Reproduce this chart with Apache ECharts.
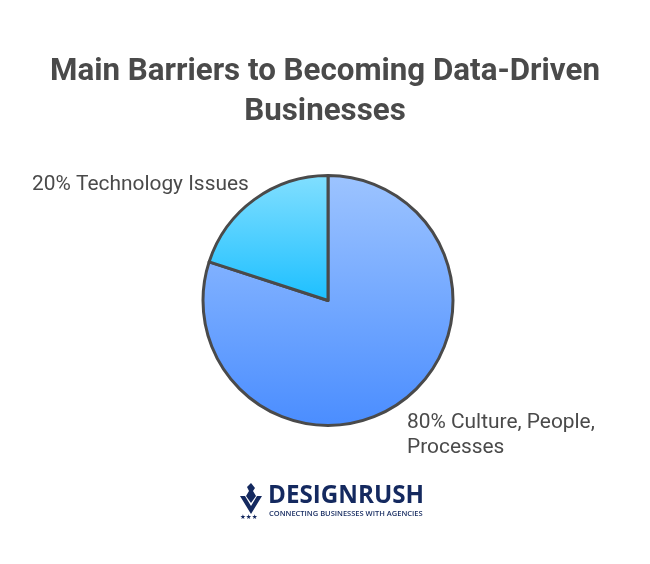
<!DOCTYPE html>
<html>
<head>
<meta charset="utf-8">
<style>
  html, body { margin: 0; padding: 0; background: #fff; }
  #chart { width: 650px; height: 564px; }
</style>
<script src="https://cdn.jsdelivr.net/npm/echarts@6/dist/echarts.min.js"></script>
</head>
<body>
<div id="chart"></div>
<script>
var categories = ['80% Culture, People,\nProcesses', '20% Technology Issues'];
var values = [80, 20];
var sliceTop = ['#9dc4ff', '#82dfff'];
var sliceBottom = ['#4a8dff', '#1cbfff'];
var labelPos = [[407, 435.5], [32, 185]];
var ink = '#4a4a4a';
var navy = '#14295f';

var chart = echarts.init(document.getElementById('chart'));

var pieData = [];
for (var i = 0; i < values.length; i++) {
  pieData.push({
    name: categories[i],
    value: values[i],
    itemStyle: {
      color: new echarts.graphic.LinearGradient(0, 0, 0, 1, [
        { offset: 0, color: sliceTop[i] },
        { offset: 1, color: sliceBottom[i] }
      ])
    }
  });
}

chart.setOption({
  animation: false,
  title: {
    text: 'Main Barriers to Becoming Data-Driven\nBusinesses',
    left: 320,
    top: 47.5,
    textAlign: 'center',
    textStyle: {
      fontFamily: 'Roboto',
      fontSize: 31.3,
      fontWeight: 'bold',
      color: ink,
      lineHeight: 39.5
    }
  },
  series: [{
    type: 'pie',
    center: [328, 300.5],
    radius: [0, 125],
    startAngle: 90,
    clockwise: true,
    data: pieData,
    itemStyle: { borderColor: ink, borderWidth: 3 },
    emphasis: { disabled: true },
    labelLine: { show: false },
    label: {
      show: true,
      position: 'outside',
      formatter: '{b}',
      fontFamily: 'Roboto',
      fontSize: 20.9,
      lineHeight: 24.5,
      color: ink,
      align: 'left',
      width: 240,
      overflow: 'none'
    },
    labelLayout: function (params) {
      var p = labelPos[params.dataIndex];
      return { x: p[0], y: p[1], align: 'left', verticalAlign: 'middle' };
    }
  }],
  graphic: [
    // logo mark
    { type: 'polygon', shape: { points: [[240, 496], [245, 496], [251, 506], [257, 496], [262, 496], [251, 514]] }, style: { fill: navy } },
    { type: 'polygon', shape: { points: [[251, 483], [255, 488], [253, 491], [256, 496], [251, 503], [246, 496], [249, 491], [247, 487]] }, style: { fill: navy } },
    { type: 'text', left: 240, top: 514, style: { text: '★★★', fontSize: 6.5, fill: navy, fontFamily: 'DejaVu Sans' } },
    { type: 'text', left: 268, top: 484, style: { text: 'DESIGNRUSH', fontFamily: 'Open Sans', fontWeight: 'bold', fontSize: 24.2, fill: navy } },
    { type: 'text', left: 269, top: 510, style: { text: 'CONNECTING BUSINESSES WITH AGENCIES', fontFamily: 'Open Sans', fontWeight: 600, fontSize: 7.5, fill: navy } }
  ]
});
</script>
</body>
</html>
